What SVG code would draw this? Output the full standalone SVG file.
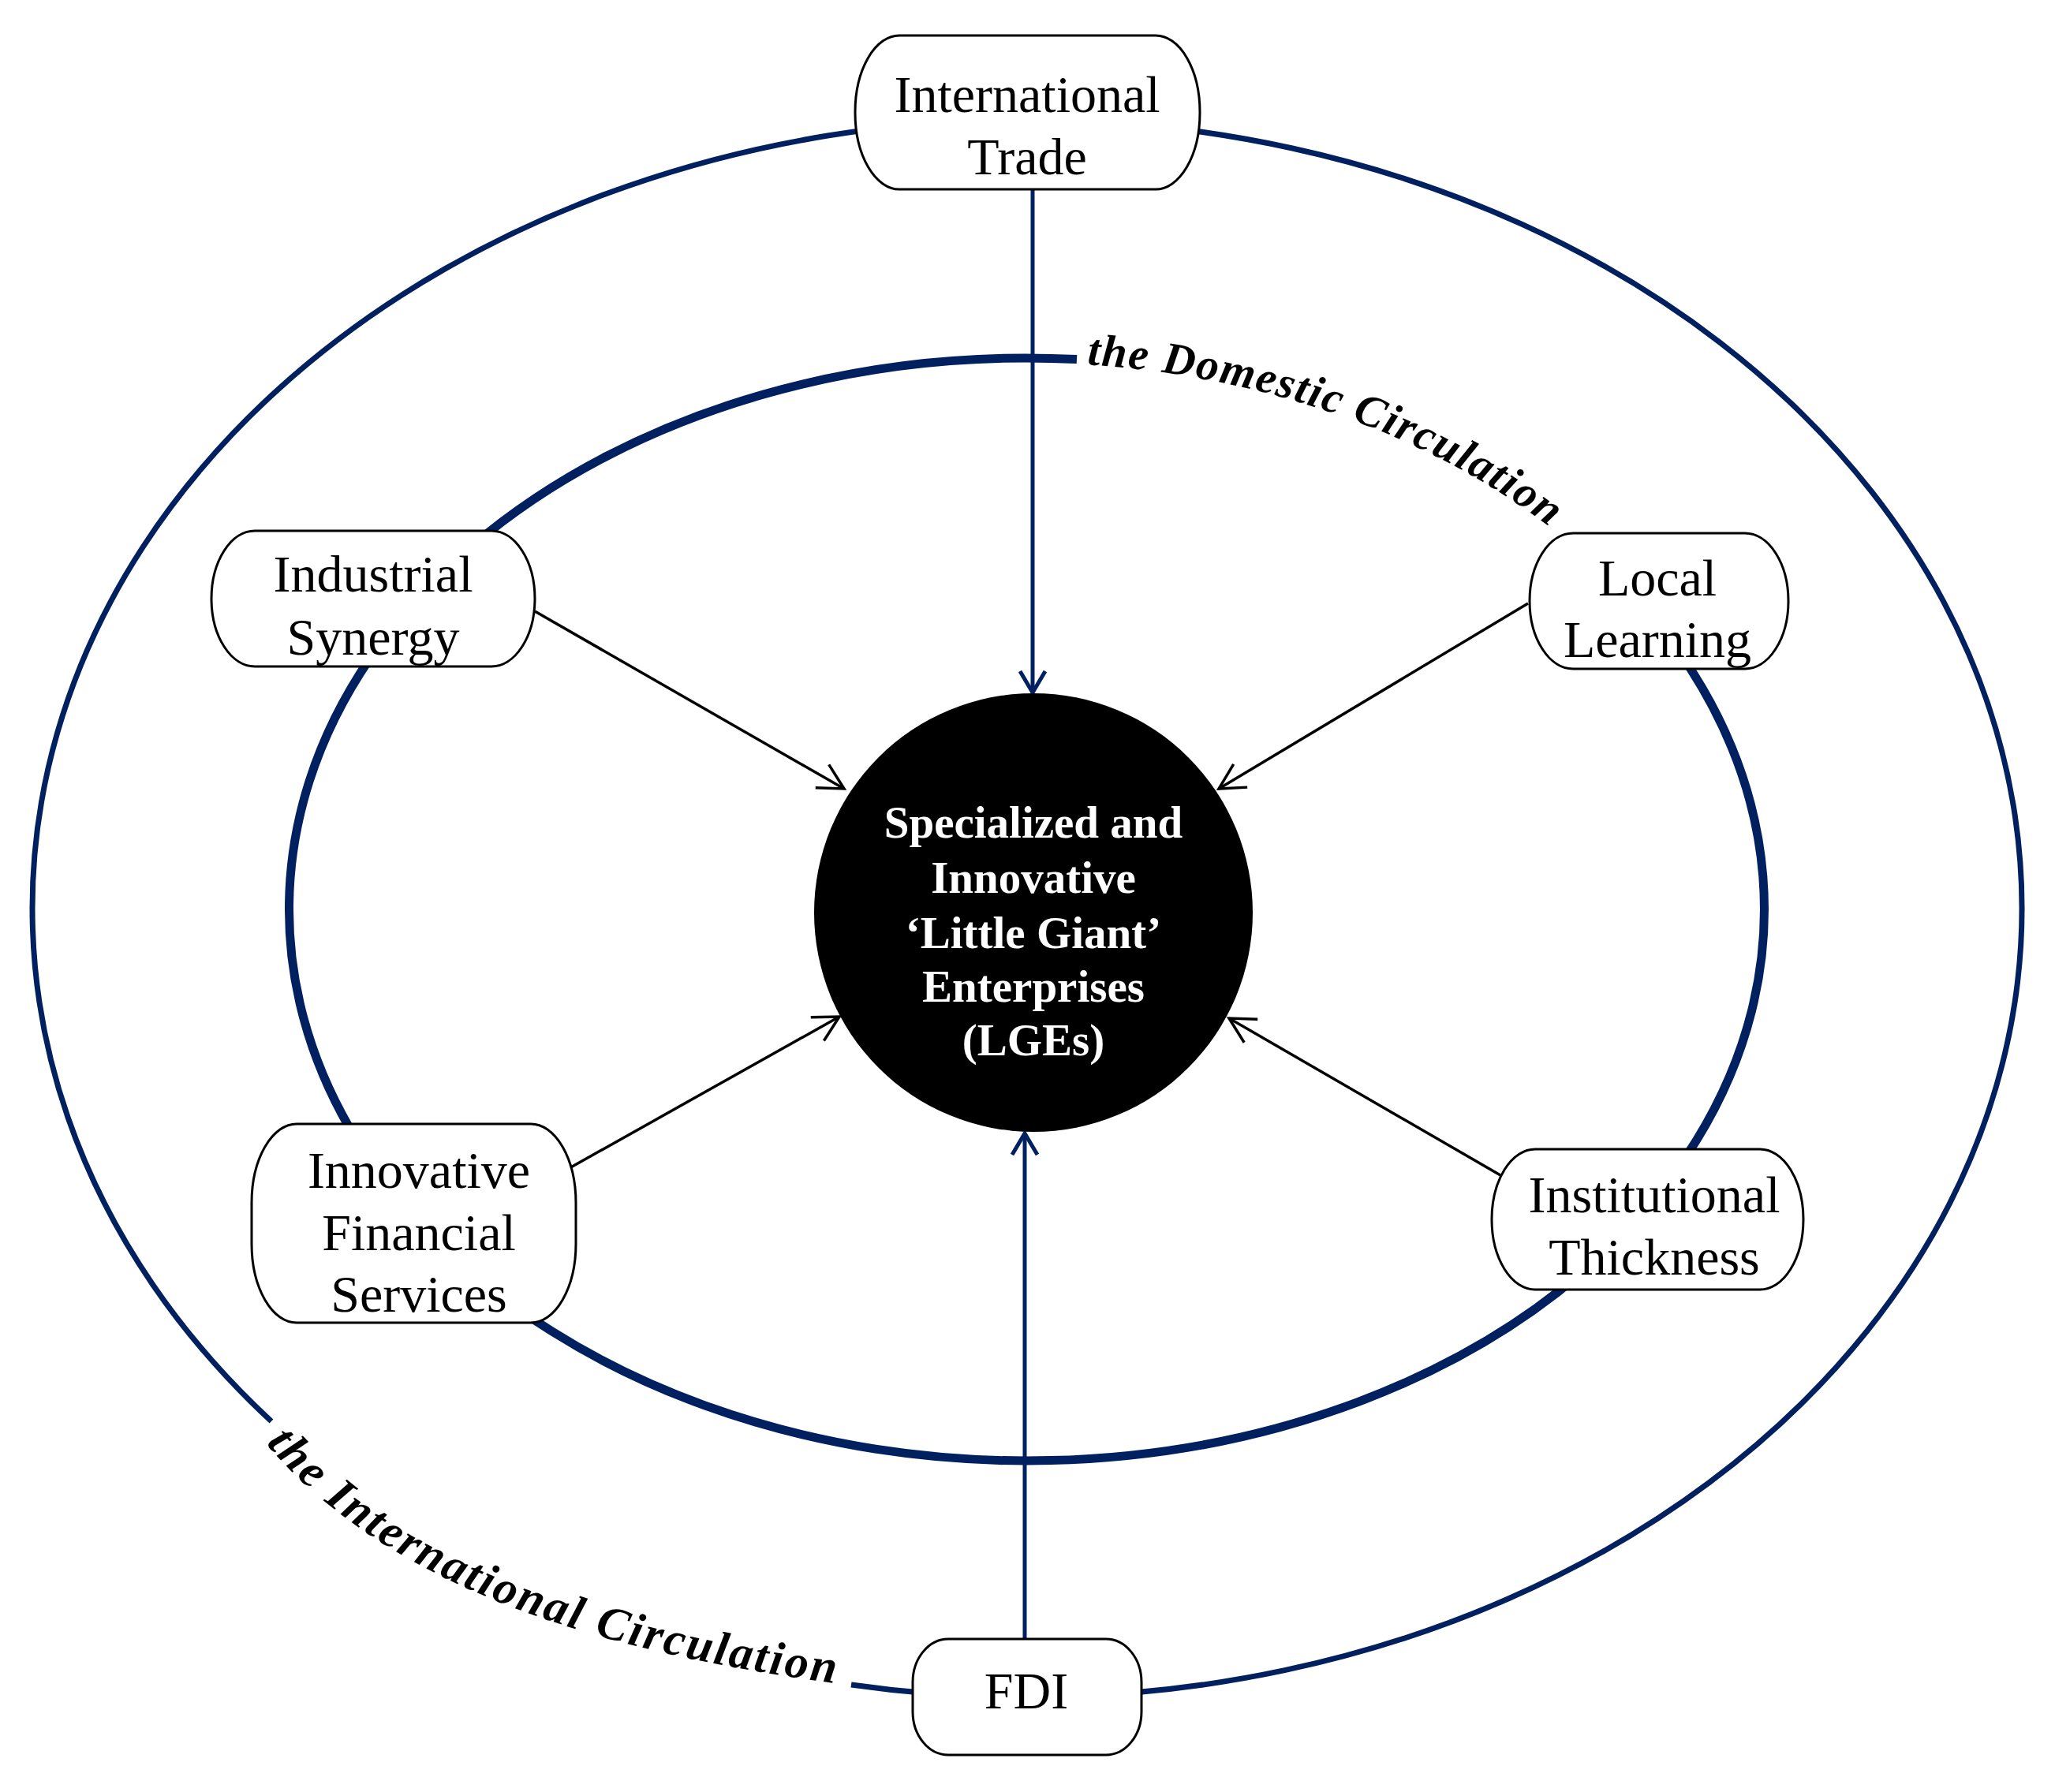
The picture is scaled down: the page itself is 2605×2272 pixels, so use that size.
<svg xmlns="http://www.w3.org/2000/svg" width="2605" height="2272" viewBox="0 0 2605 2272">
<defs>
<style>
.ring{fill:none;stroke:#002060}
.outer{stroke-width:7}
.inner{stroke-width:11}
.box{fill:#fff;stroke:#000;stroke-width:3}
.lbl{font-family:"Liberation Serif","Times New Roman",serif;font-size:66px;fill:#000;text-anchor:middle}
.hub{font-family:"Liberation Serif","Times New Roman",serif;font-size:57px;font-weight:bold;fill:#fff;text-anchor:middle}
.circ{font-family:"Liberation Serif","Times New Roman",serif;font-weight:bold;font-style:italic;fill:#000}
.navy{stroke:#002060;stroke-width:5;fill:none}
.blk{stroke:#000;stroke-width:3.5;fill:none}
</style>
<marker id="arrN" markerUnits="userSpaceOnUse" markerWidth="80" markerHeight="80" refX="0" refY="0" orient="auto" overflow="visible">
<path d="M-27,-16 L0,0 L-27,16" fill="none" stroke="#002060" stroke-width="5"/>
</marker>
<marker id="arrB" markerUnits="userSpaceOnUse" markerWidth="80" markerHeight="80" refX="0" refY="0" orient="auto" overflow="visible">
<path d="M-32,-17 L0,0 L-32,17" fill="none" stroke="#000" stroke-width="3.5"/>
</marker>
<path id="domPath" d="M 1365 461.6 A 929 693 0 0 1 2105 806.5"/>
<path id="intPath" d="M 337 1830 C 504 2029 807 2100.7 1065 2135 L 1140 2145"/>
</defs>

<g id="rings">
<path class="ring outer" d="M 1079 2136 A 1261 1000 0 1 0 344 1802"/>
<path class="ring inner" d="M 1996 685 A 935 699 0 1 1 1365 455.6"/>
<text class="circ" font-size="57"><textPath href="#domPath" startOffset="13" textLength="630" lengthAdjust="spacing">the Domestic Circulation</textPath></text>
<text class="circ" font-size="60"><textPath href="#intPath" startOffset="0" textLength="800" lengthAdjust="spacing">the International Circulation</textPath></text>
</g>

<g id="connectors">
<line class="navy" x1="1309" y1="240" x2="1309" y2="878" marker-end="url(#arrN)"/>
<line class="navy" x1="1299" y1="2078" x2="1299" y2="1437" marker-end="url(#arrN)"/>
<line class="blk" x1="678" y1="775" x2="1070" y2="1000" marker-end="url(#arrB)"/>
<line class="blk" x1="1937" y1="765" x2="1545" y2="1000" marker-end="url(#arrB)"/>
<line class="blk" x1="720" y1="1482" x2="1064" y2="1289" marker-end="url(#arrB)"/>
<line class="blk" x1="1902" y1="1490" x2="1558" y2="1291" marker-end="url(#arrB)"/>
</g>

<g id="node-international-trade">
<rect class="box" x="1084" y="45" width="437" height="195" rx="56" ry="97"/>
<text class="lbl" x="1302" y="142">International</text>
<text class="lbl" x="1302" y="221">Trade</text>
</g>

<g id="node-industrial-synergy">
<rect class="box" x="268" y="673" width="410" height="172" rx="55" ry="86"/>
<text class="lbl" x="473" y="750">Industrial</text>
<text class="lbl" x="473" y="830">Synergy</text>
</g>

<g id="node-local-learning">
<rect class="box" x="1939" y="676" width="328" height="172" rx="55" ry="86"/>
<text class="lbl" x="2101" y="755">Local</text>
<text class="lbl" x="2101" y="833">Learning</text>
</g>

<g id="node-innovative-financial-services">
<rect class="box" x="319" y="1425" width="411" height="252" rx="57" ry="100"/>
<text class="lbl" x="531" y="1506">Innovative</text>
<text class="lbl" x="531" y="1585">Financial</text>
<text class="lbl" x="531" y="1663">Services</text>
</g>

<g id="node-institutional-thickness">
<rect class="box" x="1891" y="1457" width="395" height="178" rx="55" ry="89"/>
<text class="lbl" x="2097" y="1537">Institutional</text>
<text class="lbl" x="2097" y="1616">Thickness</text>
</g>

<g id="node-fdi">
<rect class="box" x="1157" y="2078" width="290" height="147" rx="45" ry="55"/>
<text class="lbl" x="1301" y="2166" font-size="57">FDI</text>
</g>

<g id="node-lges">
<circle cx="1310" cy="1157" r="278" fill="#000"/>
<text class="hub" x="1310" y="1062">Specialized and</text>
<text class="hub" x="1310" y="1132">Innovative</text>
<text class="hub" x="1310" y="1202">‘Little Giant’</text>
<text class="hub" x="1310" y="1270">Enterprises</text>
<text class="hub" x="1310" y="1338">(LGEs)</text>
</g>
</svg>
